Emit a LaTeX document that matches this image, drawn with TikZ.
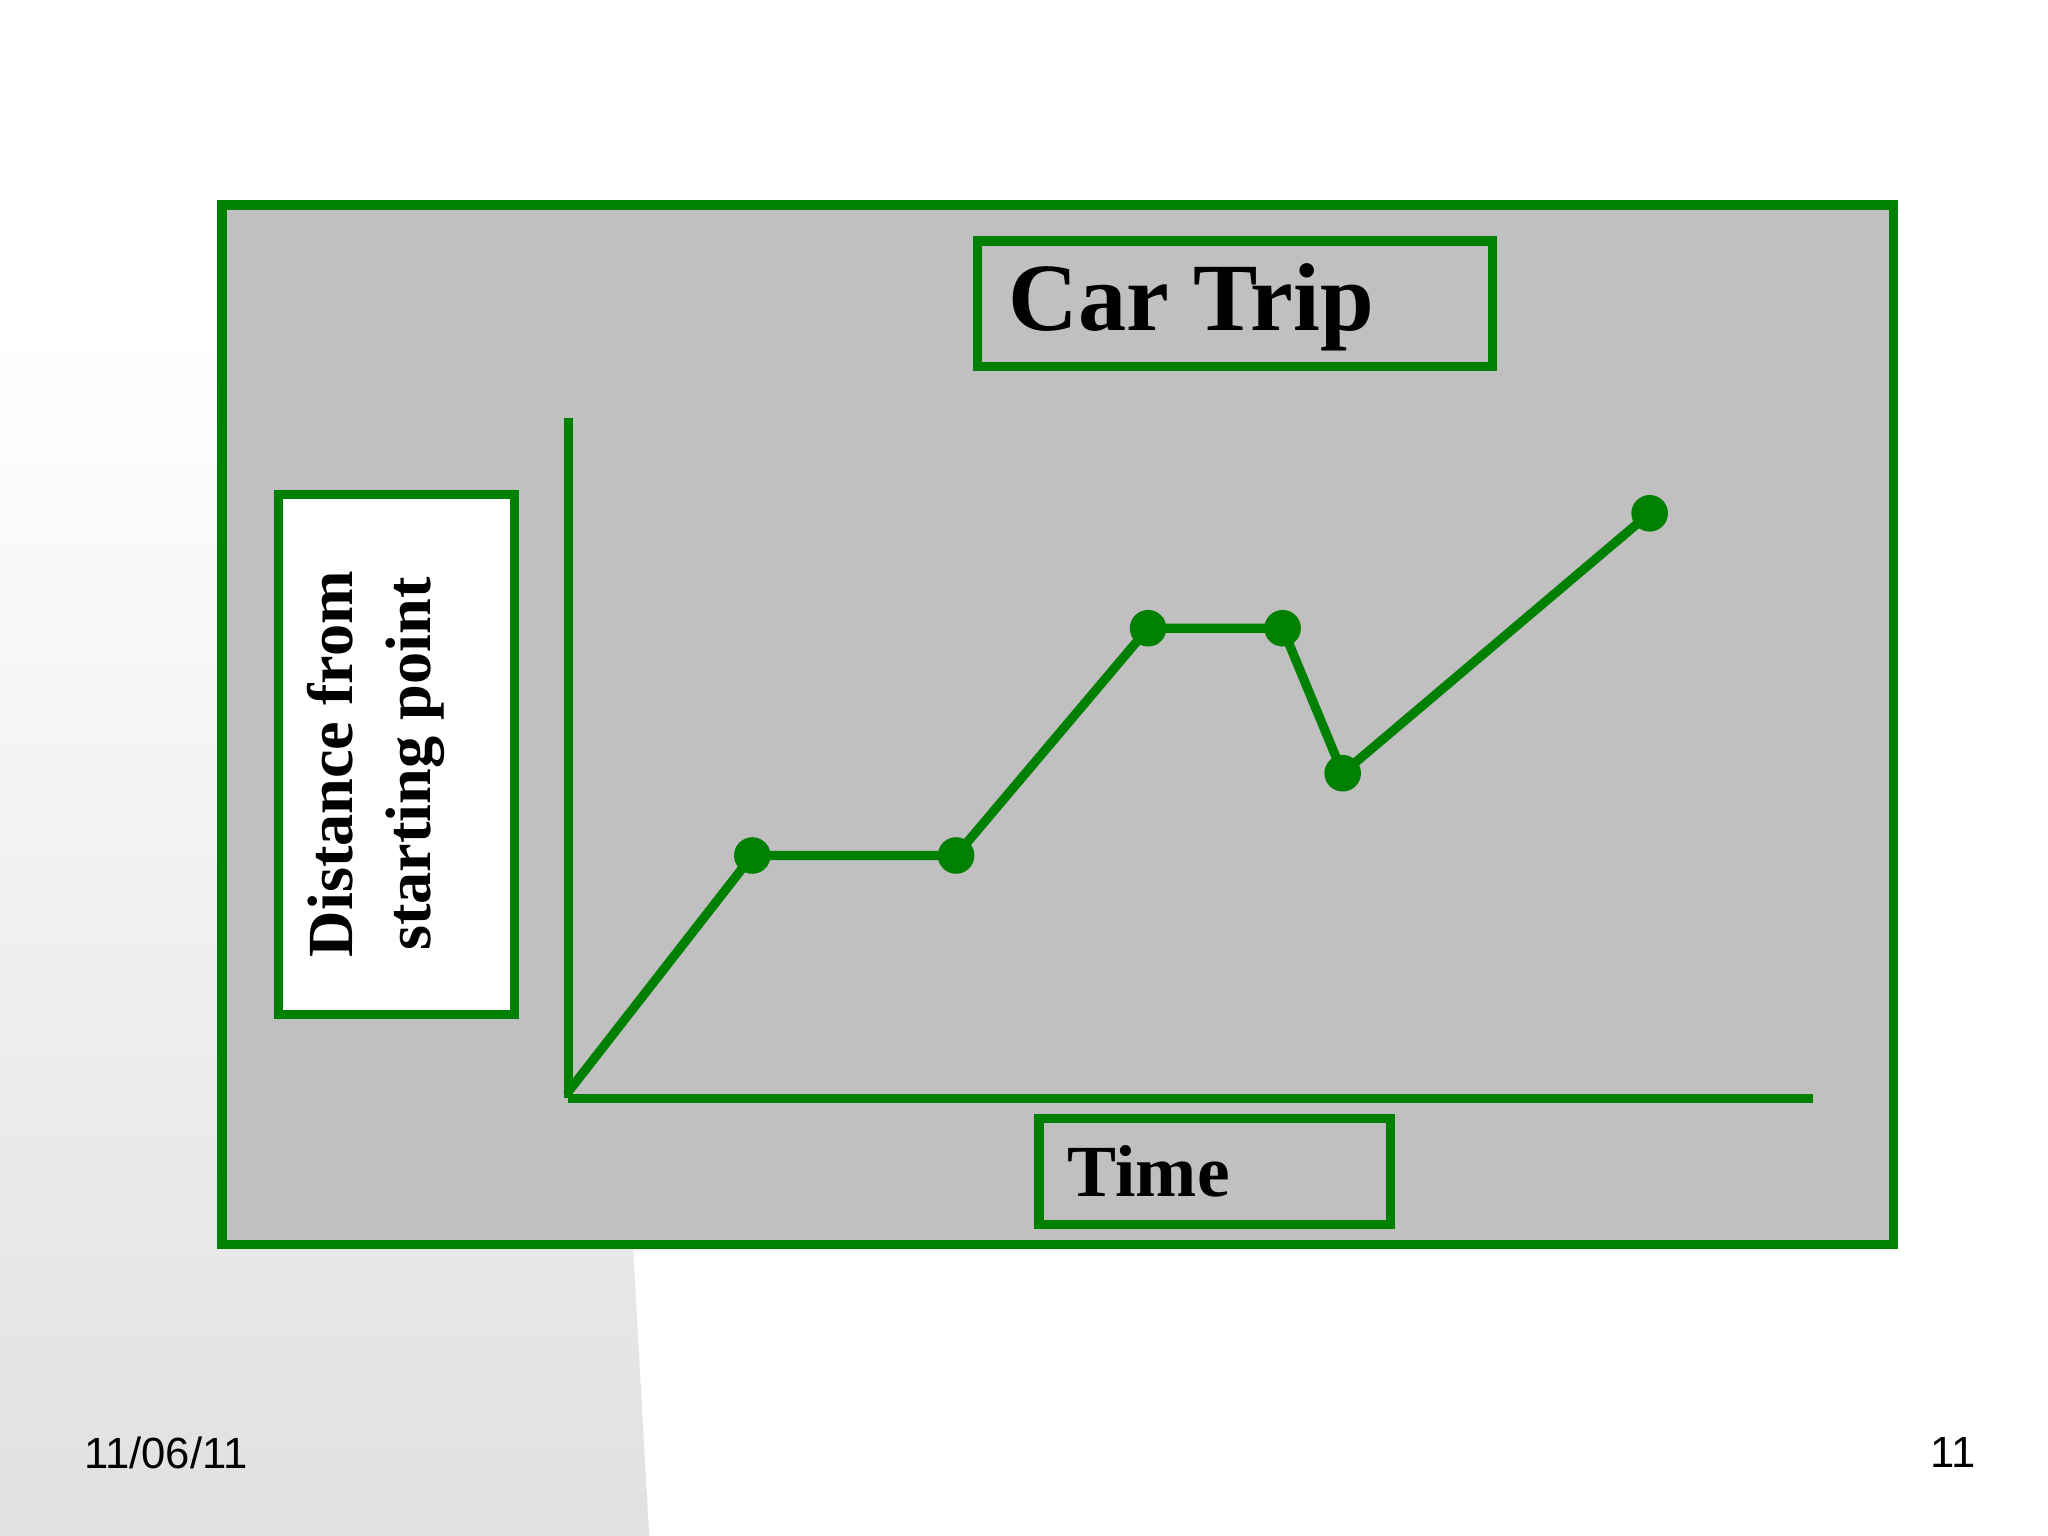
\documentclass[tikz,border=0pt]{standalone}
\usepackage{fontspec}
\setmainfont{Liberation Serif}
\newfontfamily\footfont{Liberation Sans}
\definecolor{gr}{HTML}{008000}
\definecolor{pan}{HTML}{C1C0C1}
\begin{document}
\begin{tikzpicture}[x=0.01cm,y=-0.01cm,
  frame/.style={draw=gr,line width=2pt},
  curve/.style={draw=gr,line width=2pt},
  dot/.style={circle,fill=gr,inner sep=0pt,minimum size=0.28cm}]
\useasboundingbox (0,0) rectangle (1568,1176);
\fill[white] (0,0) rectangle (1568,1176);
\shade[top color=white,bottom color=black!12] (0,250) -- (480,250) -- (485,960) -- (497,1176) -- (0,1176) -- cycle;
\draw[frame,fill=pan] (170,157) rectangle (1450,953);
\node[frame,fill=pan,minimum width=3.94cm,minimum height=0.96cm,anchor=north west] (title) at (745,181) {};
\node[anchor=west,font=\bfseries\fontsize{21}{24}\selectfont] (tt) at (760,235) {Car Trip};
\node[frame,fill=white,minimum width=1.8cm,minimum height=3.98cm,anchor=north west] (ybox) at (210,375) {};
\node[rotate=90,font=\bfseries\fontsize{14}{17}\selectfont,align=center] (yl) at (288,585) {Distance from\\starting point};
\node[frame,fill=pan,minimum width=2.69cm,minimum height=0.81cm,anchor=north west] (tbox) at (792,853) {};
\node[anchor=west,font=\bfseries\fontsize{16}{19}\selectfont] (tl) at (805,897) {Time};
\coordinate (ytop) at (435,320);
\coordinate (org) at (435,841);
\coordinate (xend) at (1388,841);
\draw[curve] (ytop) -- (435,841);
\draw[curve] (org) -- (xend);
\coordinate (p0) at (435,836);
\node[dot] (p1) at (576,655) {};
\node[dot] (p2) at (732,655) {};
\node[dot] (p3) at (879,481) {};
\node[dot] (p4) at (982,481) {};
\node[dot] (p5) at (1028,592) {};
\node[dot] (p6) at (1263,393) {};
\draw[curve,line cap=round] (p0) -- (p1.center) -- (p2.center) -- (p3.center) -- (p4.center) -- (p5.center) -- (p6.center);
\node[font=\footfont\fontsize{9.5}{11}\selectfont] (date) at (127,1112) {11/06/11};
\node[font=\footfont\fontsize{9.5}{11}\selectfont] (pg) at (1495,1112) {11};
\end{tikzpicture}
\end{document}
